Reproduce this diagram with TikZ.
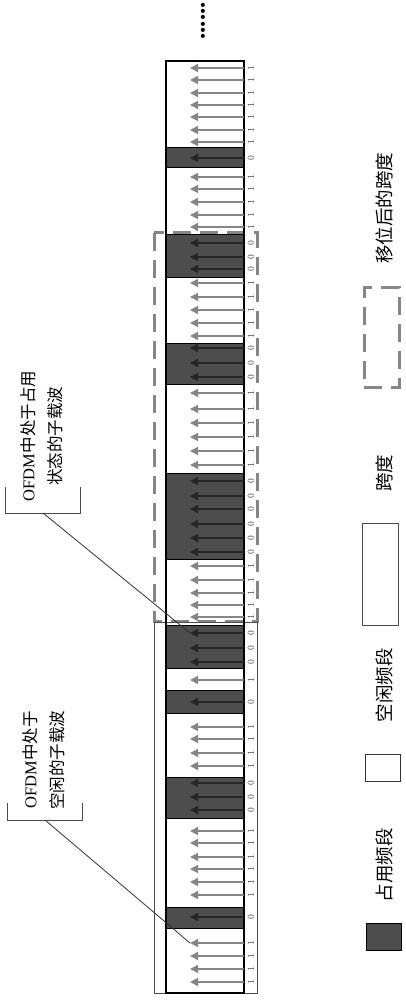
\documentclass[tikz,border=0pt]{standalone}
\usepackage{fontspec}
\setmainfont{Liberation Serif}
\newfontfamily\cjkfont{Noto Sans CJK SC}
\usetikzlibrary{arrows.meta}
\definecolor{busy}{HTML}{4D4D4D}
\definecolor{tone}{HTML}{858585}
\tikzset{
  idle/.style={draw=tone, line width=1.5pt, -{Triangle[length=8pt,width=8pt]}},
  used/.style={draw=black!85, line width=1.5pt, -{Triangle[length=8pt,width=8pt]}},
  bit/.style={rotate=90, font=\fontsize{9.5}{9.5}\selectfont, text=black!65, inner sep=0pt},
  busyband/.style={fill=busy, draw=black, line width=1pt},
  shifted/.style={draw=gray!95, line width=3pt, dash pattern=on 18pt off 9pt},
  legtext/.style={rotate=90, font=\fontsize{18.5}{18.5}\selectfont\cjkfont, inner sep=0pt},
  callout/.style={rotate=90, align=center, font=\fontsize{16.5}{27}\selectfont, inner sep=0pt},
  bracket/.style={draw=black!70, line width=1pt},
}
\begin{document}
\begin{tikzpicture}[x=1pt,y=-1pt]
\useasboundingbox (0,0) rectangle (406,1000);
% spans
\draw[shifted] (154,233) rectangle (257,621);
\draw[draw=black!70, line width=1pt] (154,622) rectangle (257,993);
% occupied bands
\foreach \a/\b in {148/168,235/277,343/384,473/559,625/668,690/713,777/818,907/928}
  \draw[busyband] (166,\a) rectangle (244,\b);
\draw[black, line width=1.2pt] (166,61) rectangle (244,993);
% idle subcarriers
\foreach \y [count=\i] in {68,80,93,105,117,130,142,177,189,202,215,227,283,297,310,323,336,
    393,409,423,437,451,465,566,580,593,605,617,680,727,739,753,766,
    831,843,857,869,882,895,943,956,969,982}{
  \coordinate (ws\i) at (244,\y);
  \coordinate (wt\i) at (190,\y);
  \draw[idle] (ws\i) -- (wt\i);
  \node[bit] (wb\i) at (251,\y) {1};
}
% occupied subcarriers
\foreach \y [count=\i] in {158,243,257,269,348,363,377,481,496,509,524,538,552,
    633,648,662,702,783,797,810,917}{
  \coordinate (ds\i) at (244,\y);
  \coordinate (dt\i) at (190,\y);
  \draw[used] (ds\i) -- (dt\i);
  \node[bit] (db\i) at (251,\y) {0};
}
\node[rotate=90, font=\fontsize{25}{25}\selectfont\bfseries, inner sep=0pt] (more) at (203,21) {......};

% callouts
\node[callout] (busytxt) at (41.5,436) {OFDM{\cjkfont 中处于占用}\\{\cjkfont 状态的子载波}};
\draw[bracket] (5,487) -- (5,513) -- (80,513) -- (80,487);
\coordinate (busyfoot) at (43,513);
\draw[black!80, line width=0.8pt] (busyfoot) -- (dt14);

\node[callout] (idletxt) at (43.5,760) {OFDM{\cjkfont 中处于}\\{\cjkfont 空闲的子载波}};
\draw[bracket] (7,803) -- (7,820) -- (82,820) -- (82,803);
\coordinate (idlefoot) at (45,820);
\draw[black!80, line width=0.8pt] (idlefoot) -- (wt40);

% legend
\node[busyband, minimum width=35pt, minimum height=27pt, inner sep=0pt] (legbusy) at (383.5,936.5) {};
\node[legtext] (legbusytxt) at (384,865) {占用频段};
\node[draw=black!80, line width=1pt, minimum width=35pt, minimum height=27pt, inner sep=0pt] (legidle) at (382.5,767.5) {};
\node[legtext] (legidletxt) at (384,685) {空闲频段};
\node[draw=black!70, line width=1pt, minimum width=36pt, minimum height=102pt, inner sep=0pt] (legspan) at (380,574) {};
\node[legtext] (legspantxt) at (384,473) {跨度};
\node[shifted, minimum width=35pt, minimum height=100pt, inner sep=0pt] (legshift) at (381.5,337.5) {};
\node[legtext] (legshifttxt) at (384,208) {移位后的跨度};
\end{tikzpicture}
\end{document}
